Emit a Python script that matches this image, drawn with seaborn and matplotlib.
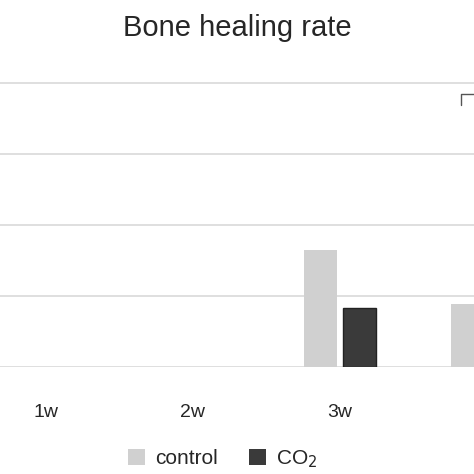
import pandas as pd
import seaborn as sns
import matplotlib.pyplot as plt

# Data
weeks = ["1w", "2w", "3w", "4w"]
control = [0, 0, 33, 17.7]
co2 = [0, 0, 16.6, 0]
group_labels = ["control", "CO$_2$"]

df = pd.DataFrame({
    "week": weeks * 2,
    "value": control + co2,
    "group": [group_labels[0]] * 4 + [group_labels[1]] * 4,
})

sns.set_style("white")
plt.rcParams["font.family"] = ["Liberation Sans", "DejaVu Sans"]

fig = plt.figure(figsize=(4.74, 4.74), dpi=100)
ax = fig.add_axes([0, 0.226, 1, 0.658])

sns.barplot(data=df, x="week", y="value", hue="group",
            palette=["#d0d0d0", "#3a3a3a"], width=0.53, gap=0.15,
            edgecolor="none", ax=ax, legend=True)
ax.patches[len(weeks) + 2].set_edgecolor("#222222")

ax.set_xlim(-0.31, 2.91)
ax.set_ylim(0, 88)
ax.set_yticks([0, 20, 40, 60, 80])
ax.yaxis.grid(True, color="#d9d9d9", linewidth=1.2)
ax.set_axisbelow(True)
for s in ax.spines.values():
    s.set_visible(False)
ax.set_yticklabels([])
ax.tick_params(axis="y", length=0)
ax.tick_params(axis="x", length=0, labelsize=14, pad=27)
ax.set_xlabel("")
ax.set_ylabel("")

# last category label sits partly outside the view
ax.text(len(weeks) - 1, -0.12, weeks[-1], transform=ax.get_xaxis_transform(),
        ha="center", va="top", fontsize=14, clip_on=False)

# significance bracket (partly visible)
ax.plot([2.82, 2.82, 2.95], [73.8, 77, 77], color="#555555", lw=1)

ax.set_title("Bone healing rate", fontsize=21, pad=14, fontweight="medium")

ax.legend(loc="upper center", bbox_to_anchor=(0.47, -0.2), ncol=2,
          frameon=False, fontsize=15, handlelength=0.8, handleheight=0.8,
          columnspacing=1.5, handletextpad=0.5)

fig.savefig("out.png", dpi=100)
